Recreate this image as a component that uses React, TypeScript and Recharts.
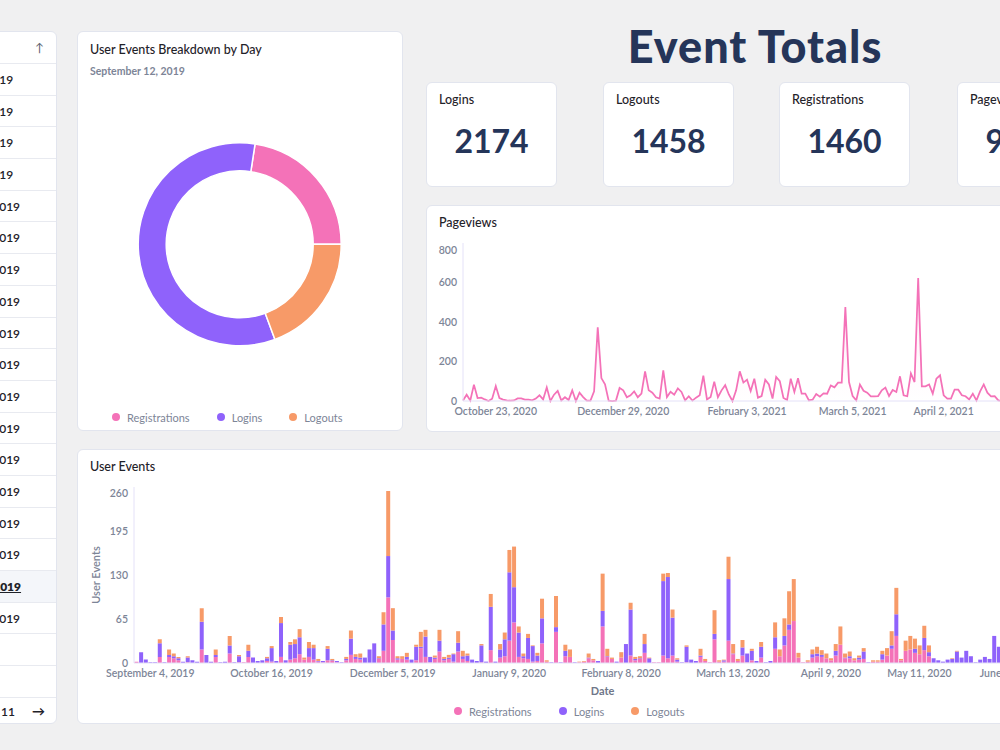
import { Area, AreaChart, Bar, BarChart, Cell, Legend, Pie, PieChart, XAxis, YAxis } from "recharts";

const FONT = "Lato, 'Noto Sans', sans-serif";
const NAVY = "#253559";
const INK = "#1f2229";
const MUTED = "#7d8597";
const AXIS = "#e4e1f8";
const BORDER = "#e2e5ee";
const ROW_LINE = "#e8eaf0";
const PAGE_BG = "#f0f0f1";

const seriesNames = ["Registrations", "Logins", "Logouts"];
const seriesColors = ["#f472b8", "#8f62fb", "#f79a68"];
const lineColor = "#f472b8";

// donut: breakdown for one selected day
const breakdownDate = "September 12, 2019";
const breakdownValues = [7, 18, 6];

// stat cards
const totalLabels = ["Logins", "Logouts", "Registrations", "Pageviews"];
const totalValues = [2174, 1458, 1460, 9316];

// left table (only the tail of each date is on screen)
const tableDates = [
  "September 3, 2019", "September 4, 2019", "September 5, 2019", "September 6, 2019",
  "September 10, 2019", "September 11, 2019", "September 13, 2019", "September 16, 2019",
  "September 17, 2019", "September 18, 2019", "September 19, 2019", "September 20, 2019",
  "September 23, 2019", "September 24, 2019", "September 25, 2019", "September 26, 2019",
  "September 12, 2019", "September 27, 2019"
];

const monthNames = [
  "January", "February", "March", "April", "May", "June",
  "July", "August", "September", "October", "November", "December"
];

// pageviews: days that have data, per month
const pageviewMonths: [string, number[]][] = [
  ["2020-10", [5, 7, 9, 11, 13, 15, 17, 19, 21, 23, 25, 27, 29, 31]],
  ["2020-11", [2, 4, 6, 8, 9, 11, 13, 15, 17, 19, 21, 23, 25, 27, 29]],
  ["2020-12", [1, 3, 5, 7, 9, 11, 13, 15, 17, 19, 21, 23, 25, 26, 27, 29, 30, 31]],
  ["2021-01", [2, 3, 4, 5, 6, 7, 8, 9, 10, 11, 12, 13, 14, 15, 16, 18, 19, 20, 21, 22, 23, 24, 25, 26, 27, 28, 29, 30, 31]],
  ["2021-02", [1, 2, 3, 4, 5, 6, 7, 8, 9, 10, 11, 12, 13, 15, 16, 17, 18, 19, 20, 21, 22, 23, 24, 25, 26, 27, 28]],
  ["2021-03", [1, 2, 3, 4, 5, 6, 8, 9, 10, 11, 12, 13, 15, 16, 17, 18, 19, 20, 22, 23, 24, 25, 26, 27, 28, 29, 30, 31]],
  ["2021-04", [1, 2, 3, 4, 5, 6, 7, 8, 9, 10, 11, 12, 13, 14, 15, 16, 17, 18, 19, 20, 21, 22, 23, 24, 25, 26, 27, 28, 29]]
];

const pageviews = [
  3, 32, 3, 83, 15, 17, 8, 0, 12, 76,
  15, 7, 3, 2, 3, 13, 13, 7, 7, 3,
  12, 29, 8, 69, 0, 32, 51, 3, 19, 5,
  54, 0, 42, 20, 2, 2, 49, 373, 116, 84,
  2, 0, 2, 66, 54, 19, 29, 49, 19, 37,
  150, 54, 42, 19, 12, 155, 20, 47, 32, 64,
  46, 3, 24, 2, 17, 29, 128, 8, 20, 98,
  19, 54, 80, 33, 0, 54, 150, 93, 108, 51,
  113, 17, 25, 108, 84, 12, 122, 100, 15, 5,
  113, 46, 115, 37, 37, 3, 7, 35, 22, 39,
  37, 79, 69, 93, 93, 476, 96, 25, 3, 83,
  52, 42, 24, 24, 25, 54, 68, 25, 56, 46,
  125, 29, 24, 140, 96, 623, 74, 74, 84, 37,
  113, 130, 29, 12, 12, 57, 57, 29, 24, 8,
  37, 3, 49, 84, 42, 24, 25, 3, 0, 14,
  38, 22, 9, 47, 30, 12, 5, 26, 41, 18
];

const pageviewTicks = ["2020-10-23", "2020-12-29", "2021-02-03", "2021-03-05", "2021-04-02"];

// user events: days that have data, per month
const eventMonths: [string, number[]][] = [
  ["2019-08", [30]],
  ["2019-09", [1, 2, 4, 5, 6, 8, 9, 11, 12, 13, 15, 17, 18, 20, 22, 23, 25, 27, 29, 30]],
  ["2019-10", [2, 4, 7, 9, 11, 13, 14, 15, 16, 18, 20, 22, 24, 25, 28, 30]],
  ["2019-11", [1, 3, 5, 6, 8, 11, 13, 14, 16, 18, 20, 22, 24, 25, 27, 29]],
  ["2019-12", [1, 3, 5, 6, 7, 9, 10, 11, 12, 13, 15, 16, 17, 18, 19, 20, 22, 23, 27, 29, 30]],
  ["2020-01", [2, 3, 5, 6, 7, 8, 9, 10, 11, 13, 14, 15, 16, 17, 19, 20, 21, 22, 23, 24, 27, 28, 29, 30, 31]],
  ["2020-02", [2, 3, 4, 6, 7, 8, 10, 11, 12, 13, 14, 17, 18, 19, 20, 21, 24, 25, 26, 27, 28]],
  ["2020-03", [2, 3, 4, 5, 6, 9, 10, 11, 13, 14, 16, 17, 18, 19, 20, 21, 23, 24, 25, 26, 27, 30, 31]],
  ["2020-04", [1, 2, 3, 6, 7, 8, 9, 10, 13, 14, 15, 16, 17, 20, 21, 22, 24, 27, 28, 29]],
  ["2020-05", [1, 4, 5, 6, 8, 11, 12, 13, 14, 15, 18, 19, 20, 21, 22, 26, 27, 28, 29]],
  ["2020-06", [1, 2, 3, 4, 5, 8, 11, 12, 15, 16, 17, 18, 19, 22, 23, 24, 25, 26, 29]]
];

const registrations = [
  2, 0, 0, 0, 0, 9, 0, 9, 7, 4,
  0, 1, 0, 0, 20, 0, 0, 9, 0, 0,
  14, 0, 1, 1, 9, 0, 0, 0, 3, 2,
  0, 9, 0, 5, 7, 13, 5, 9, 5, 2,
  1, 4, 3, 1, 0, 4, 12, 6, 5, 0,
  0, 0, 6, 18, 97, 34, 5, 6, 5, 0,
  4, 22, 9, 1, 6, 17, 4, 6, 2, 17,
  6, 3, 0, 0, 1, 0, 19, 0, 8, 10,
  33, 60, 9, 7, 6, 2, 3, 29, 2, 0,
  46, 0, 10, 9, 0, 1, 2, 7, 4, 0,
  54, 9, 6, 0, 8, 0, 11, 4, 6, 15,
  0, 1, 1, 11, 7, 11, 2, 0, 1, 0,
  0, 9, 3, 1, 35, 2, 2, 33, 13, 3,
  11, 1, 4, 0, 8, 0, 0, 21, 10, 26,
  49, 62, 8, 1, 2, 8, 10, 9, 7, 4,
  11, 27, 7, 7, 4, 5, 6, 0, 2, 2,
  5, 11, 21, 40, 4, 18, 20, 15, 13, 19,
  10, 0, 0, 0, 0, 0, 0, 0, 0, 0,
  0, 0, 0, 0, 0, 0, 0, 0, 0, 0,
  0, 0, 0, 0, 0, 0, 0, 0, 0, 0,
  0
];

const logins = [
  0, 16, 5, 1, 1, 20, 1, 3, 3, 3,
  2, 7, 4, 2, 41, 12, 2, 3, 1, 2,
  12, 1, 9, 0, 9, 8, 3, 4, 4, 20,
  3, 50, 4, 22, 21, 25, 0, 13, 17, 1,
  2, 17, 1, 2, 1, 2, 24, 3, 3, 8,
  20, 29, 1, 39, 61, 14, 2, 0, 4, 5,
  20, 2, 30, 8, 2, 16, 2, 2, 11, 13,
  4, 8, 5, 3, 25, 2, 64, 2, 12, 25,
  101, 52, 36, 3, 31, 23, 8, 37, 0, 1,
  7, 1, 8, 0, 1, 0, 0, 1, 0, 3,
  23, 1, 0, 2, 0, 28, 68, 2, 1, 13,
  7, 0, 0, 110, 120, 56, 3, 1, 23, 5,
  3, 2, 0, 0, 8, 0, 2, 91, 1, 0,
  12, 13, 14, 3, 16, 1, 3, 17, 0, 14,
  8, 0, 0, 0, 0, 5, 4, 3, 0, 0,
  7, 0, 1, 3, 0, 3, 11, 1, 0, 0,
  8, 0, 5, 32, 0, 0, 0, 6, 0, 18,
  6, 7, 4, 2, 5, 6, 17, 8, 18, 10,
  1, 5, 9, 6, 40, 24, 14, 6, 19, 9,
  3, 12, 22, 7, 4, 11, 16, 5, 9, 13,
  8
];

const logouts = [
  0, 0, 0, 0, 0, 6, 0, 8, 4, 2,
  0, 2, 0, 0, 20, 0, 0, 8, 0, 0,
  14, 0, 2, 0, 9, 0, 0, 0, 2, 3,
  0, 9, 0, 4, 7, 12, 3, 9, 5, 3,
  0, 4, 2, 0, 0, 3, 12, 4, 6, 0,
  0, 0, 3, 18, 96, 33, 3, 4, 6, 0,
  3, 22, 10, 0, 3, 16, 3, 4, 1, 17,
  8, 3, 0, 0, 2, 0, 19, 0, 8, 10,
  33, 60, 9, 4, 6, 1, 4, 29, 2, 0,
  46, 0, 9, 11, 0, 1, 1, 6, 2, 0,
  55, 11, 2, 0, 8, 0, 10, 3, 3, 15,
  1, 0, 0, 11, 6, 12, 2, 0, 2, 0,
  0, 10, 3, 0, 35, 2, 1, 33, 14, 3,
  11, 0, 3, 0, 7, 0, 0, 22, 10, 26,
  49, 62, 7, 0, 2, 7, 10, 7, 7, 3,
  10, 27, 6, 7, 3, 3, 5, 0, 2, 2,
  5, 11, 21, 39, 2, 15, 20, 15, 13, 18,
  10, 0, 0, 0, 0, 1, 1, 0, 0, 0,
  0, 0, 0, 0, 0, 0, 0, 0, 0, 0,
  0, 0, 0, 0, 0, 0, 0, 0, 0, 0,
  0
];

const eventTicks = [
  "2019-09-04", "2019-10-16", "2019-12-05", "2020-01-09", "2020-02-08",
  "2020-03-13", "2020-04-09", "2020-05-11", "2020-06-11"
];

const statLefts = [426, 603, 779, 957];

function expandMonths(months: [string, number[]][]) {
  return months.flatMap(([ym, days]) => days.map((d) => `${ym}-${String(d).padStart(2, "0")}`));
}

function formatLongDate(iso: string) {
  const [y, m, d] = String(iso).split("-").map(Number);
  return `${monthNames[m - 1]} ${d}, ${y}`;
}

const pageviewRows = expandMonths(pageviewMonths).map((date, i) => ({ date, views: pageviews[i] }));
const eventRows = expandMonths(eventMonths).map((date, i) => ({
  date,
  registrations: registrations[i],
  logins: logins[i],
  logouts: logouts[i]
}));
const breakdownRows = seriesNames.map((name, i) => ({ name, value: breakdownValues[i] }));

const xTickStyle = { fill: MUTED, fontSize: 10.5, fontWeight: 600 };

function ValueTick(props: any) {
  const { x, y, payload, index, visibleTicksCount } = props;
  // the top label sits a little lower than its tick
  const shift = index === visibleTicksCount - 1 ? 6 : 0;
  return (
    <text x={x} y={y + shift} dy="0.355em" textAnchor="end" fill={MUTED} fontSize={10.5} fontWeight={600}>
      {payload.value}
    </text>
  );
}

function UserEventsAxisTitle(props: any) {
  const { viewBox } = props;
  if (!viewBox) return null;
  const x = viewBox.x + 17;
  const y = viewBox.y + viewBox.height / 2;
  return (
    <text
      x={x}
      y={y}
      transform={`rotate(-90 ${x} ${y})`}
      textAnchor="middle"
      dominantBaseline="central"
      fill={MUTED}
      fontSize={11}
      fontWeight={600}
    >
      User Events
    </text>
  );
}

function SeriesLegend() {
  return (
    <div style={{ display: "flex", alignItems: "center", height: 16, whiteSpace: "nowrap" }}>
      {seriesNames.map((name, i) => (
        <span
          key={name}
          style={{ display: "flex", alignItems: "center", marginRight: 27, fontSize: 11, color: MUTED }}
        >
          <span
            style={{ width: 8, height: 8, borderRadius: "50%", background: seriesColors[i], marginRight: 7 }}
          />
          {name}
        </span>
      ))}
    </div>
  );
}

type CardProps = { left: number; top: number; width: number; height: number; children?: any };

function Card({ left, top, width, height, children }: CardProps) {
  return (
    <div
      style={{
        position: "absolute",
        left,
        top,
        width,
        height,
        boxSizing: "border-box",
        background: "#fff",
        border: `1px solid ${BORDER}`,
        borderRadius: 6,
        overflow: "hidden"
      }}
    >
      {children}
    </div>
  );
}

function CardTitle({ top, children }: { top: number; children: any }) {
  return (
    <div
      style={{
        position: "absolute",
        left: 12,
        top,
        fontSize: 12.5,
        lineHeight: "16px",
        fontWeight: 500,
        color: INK,
        whiteSpace: "nowrap"
      }}
    >
      {children}
    </div>
  );
}

function DateTable() {
  const rows = [...tableDates, "", ""];
  return (
    <Card left={-300} top={31} width={357} height={693}>
      <div style={{ position: "relative", height: 32, boxSizing: "border-box", borderBottom: `1px solid ${ROW_LINE}` }}>
        <span style={{ position: "absolute", right: 12, top: 0, lineHeight: "31px", fontSize: 12, color: "#5b6070" }}>
          ↑
        </span>
      </div>
      {rows.map((text, i) => {
        const selected = text === breakdownDate;
        return (
          <div
            key={i}
            style={{
              position: "relative",
              height: 31.7,
              boxSizing: "border-box",
              borderBottom: `1px solid ${ROW_LINE}`,
              background: selected ? "#f4f6fa" : undefined
            }}
          >
            <span
              style={{
                position: "absolute",
                left: 211,
                top: 0,
                lineHeight: "31px",
                fontSize: 12,
                fontWeight: selected ? 800 : 600,
                color: INK,
                textDecoration: selected ? "underline" : undefined,
                whiteSpace: "nowrap"
              }}
            >
              {text}
            </span>
          </div>
        );
      })}
      <div style={{ position: "relative", height: 27 }}>
        <span style={{ position: "absolute", right: 41, top: 0, lineHeight: "27px", fontSize: 12, fontWeight: 600, color: INK }}>
          11
        </span>
        <span style={{ position: "absolute", right: 11, top: 0, lineHeight: "27px", fontSize: 13, fontWeight: 700, color: INK }}>
          →
        </span>
      </div>
    </Card>
  );
}

function BreakdownCard() {
  return (
    <Card left={77} top={31} width={326} height={400}>
      <CardTitle top={10}>User Events Breakdown by Day</CardTitle>
      <div
        style={{
          position: "absolute",
          left: 12,
          top: 32,
          fontSize: 10.5,
          lineHeight: "14px",
          fontWeight: 700,
          color: MUTED
        }}
      >
        {breakdownDate}
      </div>
      <div style={{ position: "absolute", left: 0, top: 58 }}>
        <PieChart width={324} height={340} margin={{ top: 0, right: 0, bottom: 0, left: 0 }}>
          <Pie
            data={breakdownRows}
            dataKey="value"
            nameKey="name"
            cx={161.7}
            cy={154.3}
            innerRadius={73.5}
            outerRadius={101.5}
            startAngle={0}
            endAngle={360}
            stroke="#fff"
            strokeWidth={1.5}
            isAnimationActive={false}
          >
            {breakdownRows.map((row, i) => (
              <Cell key={row.name} fill={seriesColors[i]} />
            ))}
          </Pie>
          <Legend content={<SeriesLegend />} wrapperStyle={{ left: 34, top: 319, bottom: "auto", width: "auto" }} />
        </PieChart>
      </div>
    </Card>
  );
}

function StatCard({ label, value, left }: { label: string; value: number; left: number }) {
  return (
    <Card left={left} top={82} width={131} height={105}>
      <CardTitle top={9}>{label}</CardTitle>
      <div
        style={{
          position: "absolute",
          left: 0,
          right: 0,
          top: 38,
          textAlign: "center",
          fontSize: 32,
          lineHeight: "40px",
          fontWeight: 700,
          color: NAVY
        }}
      >
        {value}
      </div>
    </Card>
  );
}

function PageviewsCard() {
  return (
    <Card left={426} top={205} width={640} height={227}>
      <CardTitle top={9}>Pageviews</CardTitle>
      <div style={{ position: "absolute", left: 0, top: 29 }}>
        <AreaChart width={619} height={196} data={pageviewRows} margin={{ top: 8, right: 4, bottom: 0, left: 0 }}>
          <defs>
            <linearGradient id="pageviewFill" x1="0" y1="0" x2="0" y2="1">
              <stop offset="0%" stopColor={lineColor} stopOpacity={0.22} />
              <stop offset="100%" stopColor={lineColor} stopOpacity={0} />
            </linearGradient>
          </defs>
          <XAxis
            dataKey="date"
            ticks={pageviewTicks}
            interval={0}
            tickFormatter={formatLongDate}
            tick={xTickStyle}
            tickLine={false}
            tickSize={5}
            tickMargin={2}
            axisLine={{ stroke: AXIS }}
            height={30}
          />
          <YAxis width={36} tick={<ValueTick />} tickLine={false} tickSize={4} tickMargin={2} axisLine={{ stroke: AXIS }} />
          <Area
            type="linear"
            dataKey="views"
            stroke={lineColor}
            strokeWidth={1.75}
            fill="url(#pageviewFill)"
            dot={false}
            activeDot={false}
            isAnimationActive={false}
          />
        </AreaChart>
      </div>
    </Card>
  );
}

function UserEventsCard() {
  return (
    <Card left={77} top={449} width={1010} height={275}>
      <CardTitle top={9}>User Events</CardTitle>
      <div style={{ position: "absolute", left: 0, top: 27 }}>
        <BarChart width={998} height={242} data={eventRows} margin={{ top: 10, right: 5, bottom: 0, left: 0 }}>
          <XAxis
            dataKey="date"
            ticks={eventTicks}
            interval={0}
            tickFormatter={formatLongDate}
            tick={xTickStyle}
            tickLine={false}
            tickSize={5}
            tickMargin={2}
            axisLine={{ stroke: AXIS }}
            height={40}
            label={{ value: "Date", position: "insideBottom", offset: 8, fill: "#6f7789", fontSize: 11, fontWeight: 700 }}
          />
          <YAxis
            width={56}
            tick={<ValueTick />}
            tickLine={false}
            tickSize={4}
            tickMargin={2}
            axisLine={{ stroke: AXIS }}
            label={<UserEventsAxisTitle />}
          />
          <Legend content={<SeriesLegend />} wrapperStyle={{ left: 376, width: "auto" }} />
          <Bar dataKey="registrations" name="Registrations" stackId="events" fill={seriesColors[0]} isAnimationActive={false} />
          <Bar dataKey="logins" name="Logins" stackId="events" fill={seriesColors[1]} isAnimationActive={false} />
          <Bar dataKey="logouts" name="Logouts" stackId="events" fill={seriesColors[2]} isAnimationActive={false} />
        </BarChart>
      </div>
    </Card>
  );
}

export default function App() {
  return (
    <div
      style={{
        position: "fixed",
        left: 0,
        top: 0,
        width: 1000,
        height: 750,
        overflow: "hidden",
        background: PAGE_BG,
        fontFamily: FONT
      }}
    >
      <DateTable />
      <BreakdownCard />
      <div
        style={{
          position: "absolute",
          left: 555,
          top: 20,
          width: 400,
          textAlign: "center",
          fontSize: 45,
          lineHeight: "52px",
          letterSpacing: 1,
          fontWeight: 900,
          color: NAVY
        }}
      >
        Event Totals
      </div>
      {totalLabels.map((label, i) => (
        <StatCard key={label} label={label} value={totalValues[i]} left={statLefts[i]} />
      ))}
      <PageviewsCard />
      <UserEventsCard />
    </div>
  );
}
